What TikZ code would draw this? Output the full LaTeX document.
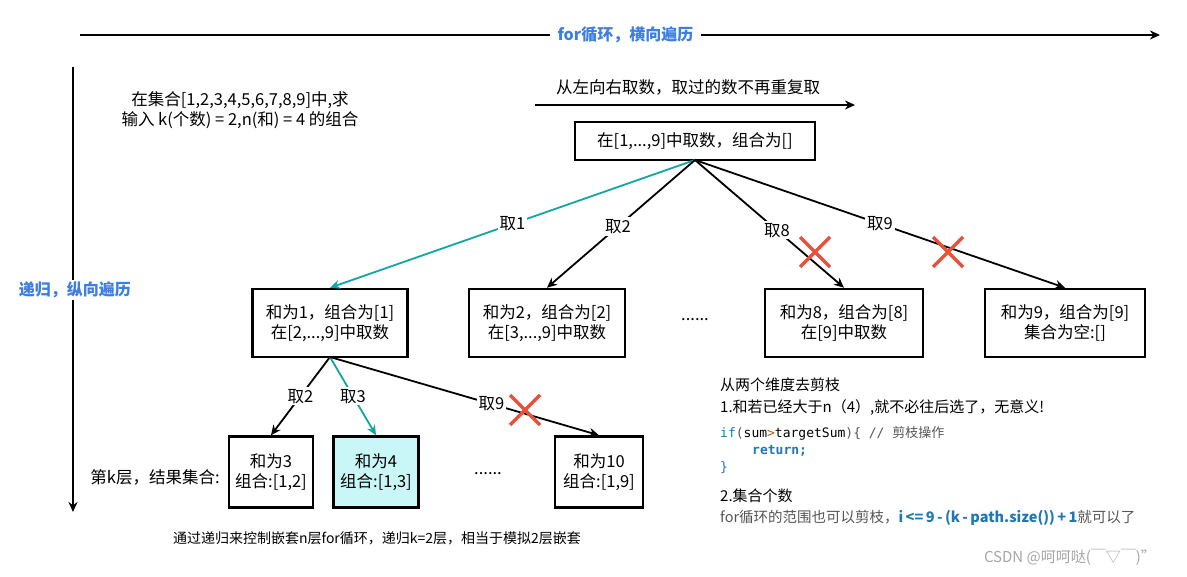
\documentclass[tikz,border=0pt]{standalone}
\usepackage{fontspec}
\setmainfont{Noto Sans CJK SC}
\newfontfamily\codef{DejaVu Sans Mono}
\usetikzlibrary{arrows.meta}
\definecolor{bl}{HTML}{3D7FE0}
\definecolor{tl}{HTML}{12A5A5}
\definecolor{cy}{HTML}{C9F6F7}
\definecolor{xr}{HTML}{E8503A}
\definecolor{cb}{HTML}{1F77B4}
\definecolor{gr}{HTML}{555555}
\begin{document}
\begin{tikzpicture}[x=1pt,y=-1pt,font=\fontsize{16.5}{20}\selectfont,
 box/.style={draw,line width=2.5pt,align=center,inner sep=0pt},
 arr/.style={-{Stealth[length=10pt,width=9pt]},line width=1.8pt},
 lab/.style={fill=white,inner sep=2pt},
 txt/.style={inner sep=0pt,align=left,anchor=west}]
\useasboundingbox (0,0) rectangle (1187,577);
% axes
\coordinate (ta) at (80,35); \coordinate (tb) at (1160,35);
\draw[arr] (ta) -- (tb) node[pos=0.505,lab,fill=white,text=bl,inner xsep=8pt,font=\bfseries\fontsize{16}{20}\selectfont]{for循环，横向遍历};
\coordinate (la) at (73,67); \coordinate (lb) at (73,512);
\draw[arr] (la) -- (lb);
\node[lab,text=bl,font=\bfseries\fontsize{16}{20}\selectfont] (lv) at (75,290) {递归，纵向遍历};
\node[align=center,inner sep=0pt] (prob) at (240,110) {在集合[1,2,3,4,5,6,7,8,9]中,求\\输入 k(个数) = 2,n(和) = 4 的组合};
\coordinate (da) at (535,105); \coordinate (db) at (855,105);
\draw[arr] (da) -- (db);
\node (dl) at (688,87) {从左向右取数，取过的数不再重复取};
% boxes
\node[box,minimum width=240pt,minimum height=38pt] (r) at (695,141) {在[1,...,9]中取数，组合为[]};
\node[box,minimum width=155pt,minimum height=68pt] (b1) at (330,323) {和为1，组合为[1]\\在[2,...,9]中取数};
\node[box,minimum width=156pt,minimum height=68pt] (b2) at (547,323) {和为2，组合为[2]\\在[3,...,9]中取数};
\node (d1) at (695,320) {......};
\node[box,minimum width=158pt,minimum height=68pt] (b3) at (844,323) {和为8，组合为[8]\\在[9]中取数};
\node[box,minimum width=160pt,minimum height=68pt] (b4) at (1065,323) {和为9，组合为[9]\\集合为空:[]};
\node[box,minimum width=84pt,minimum height=71pt] (c1) at (271,472) {和为3\\组合:[1,2]};
\node[box,fill=cy,minimum width=85pt,minimum height=71pt] (c2) at (376,472) {和为4\\组合:[1,3]};
\node (d2) at (488,474) {......};
\node[box,minimum width=88pt,minimum height=71pt] (c3) at (599,472) {和为10\\组合:[1,9]};
% edges
\coordinate (rs) at (695,160);
\draw[arr,tl] (rs) -- (b1.north) node[lab,text=black,pos=0.5]{取1};
\draw[arr] (rs) -- (b2.north) node[lab,pos=0.52]{取2};
\draw[arr] (rs) -- (b3.north) node[lab,pos=0.55]{取8};
\draw[arr] (rs) -- (b4.north) node[lab,pos=0.5]{取9};
\coordinate (bs) at (330,357);
\draw[arr] (bs) -- (c1.north) node[lab,pos=0.5]{取2};
\draw[arr,tl] (bs) -- (c2.north) node[lab,text=black,pos=0.5]{取3};
\draw[arr] (bs) -- (c3.north) node[lab,pos=0.6]{取9};
% red crosses
\foreach \n/\x/\y in {x1/815/252,x2/948/252,x3/525/410}{
 \coordinate (\n) at (\x,\y);
 \draw[xr,line width=3.5pt] ([shift={(-15,-15)}]\n) -- ([shift={(15,15)}]\n) ([shift={(-15,15)}]\n) -- ([shift={(15,-15)}]\n);}
\node (kl) at (155,477) {第k层，结果集合:};
\node[font=\fontsize{14}{17}\selectfont] (bt) at (377,538) {通过递归来控制嵌套n层for循环，递归k=2层，相当于模拟2层嵌套};
% right block
\node[txt,font=\fontsize{15}{18}\selectfont] (t1) at (720,385) {从两个维度去剪枝};
\node[txt,font=\fontsize{15}{18}\selectfont] (t2) at (720,408) {1.和若已经大于n（4）,就不必往后选了，无意义!};
\node[txt,font=\codef\fontsize{13}{15}\selectfont] (t3) at (720,433) {\textcolor{cb}{if}\textcolor{gr}{(}sum\textcolor{orange!70!black}{>}targetSum\textcolor{gr}{)\{ // }\textcolor{gr}{\fontspec{Noto Sans CJK SC}剪枝操作}};
\node[txt,font=\codef\bfseries\fontsize{13}{15}\selectfont,text=cb] (t4) at (752,451) {return;};
\node[txt,font=\codef\fontsize{13}{15}\selectfont,text=cb] (t5) at (720,468) {\}};
\node[txt,font=\fontsize{15}{18}\selectfont] (t6) at (720,496) {2.集合个数};
\node[txt,text=gr,font=\fontsize{14.5}{18}\selectfont] (t7) at (720,518) {for循环的范围也可以剪枝，\textcolor{cb}{\bfseries i{\,}<={\,}9{\,}-{\,}(k{\,}-{\,}path.size()){\,}+{\,}1}就可以了};
\node[text=gray!70,font=\fontsize{15}{18}\selectfont] (wm) at (1070,557) {CSDN @呵呵哒(￣▽￣)"};
\end{tikzpicture}
\end{document}
